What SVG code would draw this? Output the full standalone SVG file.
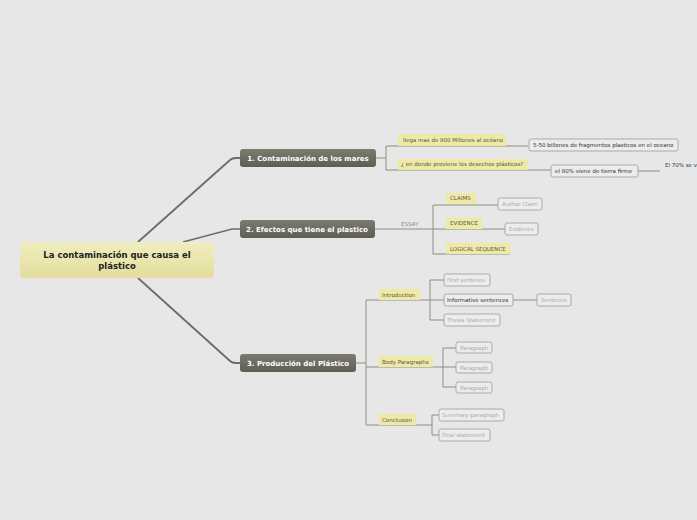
<svg xmlns="http://www.w3.org/2000/svg" width="697" height="520" viewBox="0 0 697 520">
<defs>
<linearGradient id="cg" x1="0" y1="0" x2="0" y2="1"><stop offset="0" stop-color="#f1eebf"/><stop offset="1" stop-color="#e2dd9c"/></linearGradient>
<linearGradient id="mg" x1="0" y1="0" x2="0" y2="1"><stop offset="0" stop-color="#7c7b70"/><stop offset="1" stop-color="#5f5e54"/></linearGradient>
</defs>
<style>
text{font-family:"DejaVu Sans",Verdana,sans-serif}
.main{fill:url(#mg)}
.mt{fill:#fff;font-size:7px;font-weight:bold}
.lab{fill:#efe9a6}
.lt{fill:#555;font-size:5.5px}
.box{fill:#ececec;stroke:#aaa;stroke-width:1}
.bt{fill:#333;font-size:5.5px}
.gt{fill:#aaa;font-size:5.5px}
.c{fill:none;stroke:#8e8d82;stroke-width:1}
</style>
<rect width="697" height="520" fill="#e7e7e7"/>
<g id="connectors">
<path d="M138 242 L230 160 Q232 158 236 158 L240 158" fill="none" stroke="#6e6d62" stroke-width="1.8"/>
<path d="M183 242 L232 229 L240 229" fill="none" stroke="#6e6d62" stroke-width="1.3"/>
<path d="M138 278 L230 361 Q232 363 236 363 L240 363" fill="none" stroke="#6e6d62" stroke-width="1.8"/>
<path class="c" d="M376 158 H386 M386 146 V170 M386 146 H528 M386 170 H551 M638 171 H660"/>
<path class="c" d="M375 229 H433 M433 205 V254 M433 205 H476 M476 205 H498 M433 229 H505 M433 254 H510"/>
<path class="c" d="M356 363 H366 M366 300 V425 M366 300 H444 M430 280 V320 M430 280 H444 M430 320 H444 M513 300 H537 M366 367 H456 M443 348 V387 M443 348 H456 M443 387 H456 M366 425 H432 M432 415 V435 M432 415 H439 M432 435 H439"/>
</g>
<g id="central"><rect x="20" y="242" width="194" height="36" rx="4" fill="url(#cg)"/>
<text x="117" y="258" text-anchor="middle" font-size="8.5" font-weight="bold" fill="#222">La contaminación que causa el</text>
<text x="117" y="269" text-anchor="middle" font-size="8.5" font-weight="bold" fill="#222">plástico</text></g>
<g id="n1"><rect class="main" x="240" y="149" width="136" height="18" rx="3"/><text class="mt" x="308" y="161" text-anchor="middle">1. Contaminación de los mares</text></g>
<g id="n2"><rect class="main" x="240" y="220" width="135" height="18" rx="3"/><text class="mt" x="307" y="232" text-anchor="middle">2. Efectos que tiene el plastico</text></g>
<g id="n3"><rect class="main" x="240" y="354" width="116" height="18" rx="3"/><text class="mt" x="298" y="366" text-anchor="middle">3. Producción del Plástico</text></g>
<g id="l1"><rect class="lab" x="398" y="134" width="108" height="12"/><text class="lt" x="403" y="142">llega mas de 800 Millones al océano</text></g>
<g id="b1"><rect class="box" x="529" y="139" width="149" height="12" rx="2"/><text class="bt" x="533" y="147">5-50 billones de fragmentos plasticos en el oceano</text></g>
<g id="l2"><rect class="lab" x="398" y="159" width="130" height="11"/><text class="lt" x="401" y="166">¿ en donde proviene los desechos plásticos?</text></g>
<g id="b2"><rect class="box" x="551" y="165" width="87" height="12" rx="2"/><text class="bt" x="555" y="173">el 80% viene de tierra firme</text></g>
<g id="t70"><text class="bt" x="665" y="167">El 70% se va</text></g>
<g id="essay"><text x="401" y="226" font-size="5.5" fill="#888">ESSAY</text></g>
<g id="claims"><rect class="lab" x="446" y="193" width="30" height="11"/><text class="lt" x="450" y="200" fill="#777">CLAIMS</text></g>
<g id="ac"><rect class="box" x="498" y="198" width="44" height="12" rx="2"/><text class="gt" x="502" y="206">Author Claim</text></g>
<g id="evid"><rect class="lab" x="446" y="218" width="36" height="11"/><text class="lt" x="450" y="225">EVIDENCE</text></g>
<g id="ev"><rect class="box" x="505" y="223" width="33" height="12" rx="2"/><text class="gt" x="509" y="231">Evidence</text></g>
<g id="logic"><rect class="lab" x="446" y="243" width="64" height="11"/><text class="lt" x="450" y="251">LOGICAL SEQUENCE</text></g>
<g id="intro"><rect class="lab" x="379" y="289" width="41" height="11"/><text class="lt" x="382" y="297">Introduction</text></g>
<g id="fs"><rect class="box" x="444" y="274" width="46" height="12" rx="2"/><text class="gt" x="447" y="282">First sentence</text></g>
<g id="is"><rect class="box" x="444" y="294" width="69" height="12" rx="2"/><text class="bt" x="447" y="302">Informative sentences</text></g>
<g id="sen"><rect class="box" x="537" y="294" width="34" height="12" rx="2"/><text class="gt" x="541" y="302">Sentence</text></g>
<g id="ts"><rect class="box" x="444" y="314" width="56" height="12" rx="2"/><text class="gt" x="447" y="322">Thesis Statement</text></g>
<g id="body"><rect class="lab" x="379" y="356" width="54" height="11"/><text class="lt" x="382" y="364">Body Paragraphs</text></g>
<g id="p1"><rect class="box" x="456" y="342" width="36" height="11" rx="2"/><text class="gt" x="460" y="350">Paragraph</text></g>
<g id="p2"><rect class="box" x="456" y="362" width="36" height="11" rx="2"/><text class="gt" x="460" y="370">Paragraph</text></g>
<g id="p3"><rect class="box" x="456" y="382" width="36" height="11" rx="2"/><text class="gt" x="460" y="390">Paragraph</text></g>
<g id="concl"><rect class="lab" x="379" y="414" width="37" height="11"/><text class="lt" x="382" y="422">Conclusion</text></g>
<g id="sp"><rect class="box" x="439" y="409" width="65" height="12" rx="2"/><text class="gt" x="442" y="417">Summary paragraph</text></g>
<g id="fst"><rect class="box" x="439" y="429" width="51" height="12" rx="2"/><text class="gt" x="442" y="437">Final statement</text></g>
</svg>
